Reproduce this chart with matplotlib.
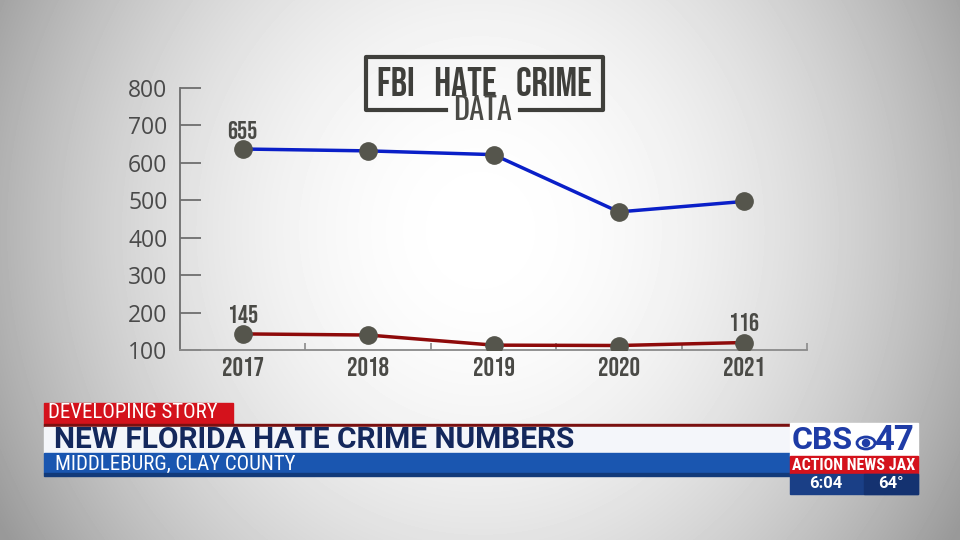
import numpy as np
import matplotlib.pyplot as plt
from matplotlib.patches import Rectangle, Ellipse, Circle
from matplotlib.lines import Line2D

# data
years = [2017, 2018, 2019, 2020, 2021]
upper = [637, 632, 622, 469, 497]
lower = [143, 140, 113, 112, 120]
upper_labels = {2017: "655"}
lower_labels = {2017: "145", 2021: "116"}
yticks = [100, 200, 300, 400, 500, 600, 700, 800]

bebas = ["Bebas Neue", "Oswald", "Roboto Condensed", "DejaVu Sans"]
thin = ["Oswald", "Roboto Condensed", "DejaVu Sans"]
cond = ["Roboto Condensed", "Roboto", "DejaVu Sans"]

fig = plt.figure(figsize=(9.6, 5.4), dpi=100)

# grey studio background, white in the middle
bg = fig.add_axes([0, 0, 1, 1])
yy, xx = np.mgrid[0:540, 0:960]
r2 = ((xx - 480) / 560.0) ** 2 + ((yy - 230) / 600.0) ** 2
shade = np.clip(1.0 - 0.41 * r2, 0.6, 1)
bg.imshow(shade, cmap="gray", vmin=0, vmax=1, extent=[0, 960, 540, 0], aspect="auto")
bg.set_xlim(0, 960)
bg.set_ylim(540, 0)
bg.axis("off")

# chart
ax = fig.add_axes([180 / 960, 1 - 350 / 540, 627 / 960, 262 / 540])
ax.patch.set_alpha(0)
ax.plot(years, upper, color="#0a1fc8", lw=2.5, zorder=2)
ax.plot(years, lower, color="#8e0a0a", lw=2.5, zorder=2)
ax.scatter(years, upper, s=155, color="#55554c", zorder=3)
ax.scatter(years, lower, s=155, color="#55554c", zorder=3)

for yr, txt in upper_labels.items():
    ax.annotate(txt, (yr, upper[years.index(yr)]), xytext=(0, 7), textcoords="offset points",
                ha="center", va="bottom", fontsize=18, family=bebas, color="#4a4a46")
for yr, txt in lower_labels.items():
    ax.annotate(txt, (yr, lower[years.index(yr)]), xytext=(0, 8), textcoords="offset points",
                ha="center", va="bottom", fontsize=18, family=bebas, color="#4a4a46")

ax.set_xlim(2016.5, 2021.5)
ax.set_ylim(100, 800)
ax.set_yticks(yticks)
ax.set_yticklabels([str(v) for v in yticks], family="Open Sans", fontsize=16.5, color="#4a4a4a")
ax.set_xticks(years)
ax.set_xticklabels([str(y) for y in years], family=bebas, fontsize=19, color="#4a4a46")
ax.set_xticks([2017.5, 2018.5, 2019.5, 2020.5, 2021.5], minor=True)
ax.tick_params(axis="y", direction="in", length=15, width=1.3, color="#6e6e6e", pad=9)
ax.tick_params(axis="x", which="major", length=0, pad=5)
ax.tick_params(axis="x", which="minor", direction="in", length=5, width=1.2, color="#8a8a8a")
for s in ["top", "right"]:
    ax.spines[s].set_visible(False)
ax.spines["left"].set_color("#6e6e6e")
ax.spines["bottom"].set_color("#8a8a8a")
ax.spines["left"].set_linewidth(1.3)
ax.spines["bottom"].set_linewidth(1.3)

# title box
box = "#3f3f3b"
bg.add_line(Line2D([446, 366, 366, 603, 603, 520], [110, 110, 57, 57, 110, 110], color=box, lw=3))
bg.text(484, 81, "FBI   HATE   CRIME", ha="center", va="center", fontsize=29,
        family=bebas, color=box)
bg.text(483, 111, "DATA", ha="center", va="center", fontsize=22, family=thin,
        fontweight=200, color="#4a4a46")

# lower third banner
bg.add_patch(Rectangle((44, 403), 189, 22, color="#d4121c"))
bg.text(48, 413, "DEVELOPING STORY", ha="left", va="center", fontsize=15, family=cond,
        color="white")
bg.add_patch(Rectangle((44, 424), 746, 3, color="#7a1010"))
bg.add_patch(Rectangle((44, 427), 746, 26, color="#f4f6fa"))
bg.text(54, 440, "NEW FLORIDA HATE CRIME NUMBERS", ha="left", va="center", fontsize=21.5,
        fontweight="bold", family="Roboto", color="#14285c")
bg.add_patch(Rectangle((44, 453), 746, 20, color="#1a56b0"))
bg.add_patch(Rectangle((44, 473), 746, 3, color="#123a7a"))
bg.text(55, 464, "MIDDLEBURG, CLAY COUNTY", ha="left", va="center", fontsize=15,
        family=cond, color="white")

# station logo
bg.add_patch(Rectangle((790, 423), 128, 33, color="white"))
bg.add_patch(Rectangle((790, 456), 128, 18, color="#d4121c"))
bg.add_patch(Rectangle((790, 474), 128, 20, color="#1a3f86"))
bg.add_patch(Rectangle((864, 474), 54, 20, color="#143270"))
bg.text(792, 440, "CBS", ha="left", va="center", fontsize=23, fontweight="bold",
        family="Roboto", color="#1f3ca6")
bg.add_patch(Ellipse((866, 443), 18, 12, fill=False, ec="#1f3ca6", lw=2))
bg.add_patch(Circle((866, 443), 3.5, color="#1f3ca6"))
bg.text(874, 440, "47", ha="left", va="center", fontsize=25, fontweight="bold",
        family="Roboto", color="#1f3ca6")
bg.text(854, 465, "ACTION NEWS JAX", ha="center", va="center", fontsize=11.5, fontweight="bold",
        family=cond, color="white")
bg.text(826, 484, "6:04", ha="center", va="center", fontsize=12, fontweight="bold",
        family="Roboto", color="white")
bg.text(891, 484, "64°", ha="center", va="center", fontsize=12, fontweight="bold",
        family="Roboto", color="white")

fig.savefig("out.png", dpi=100)
